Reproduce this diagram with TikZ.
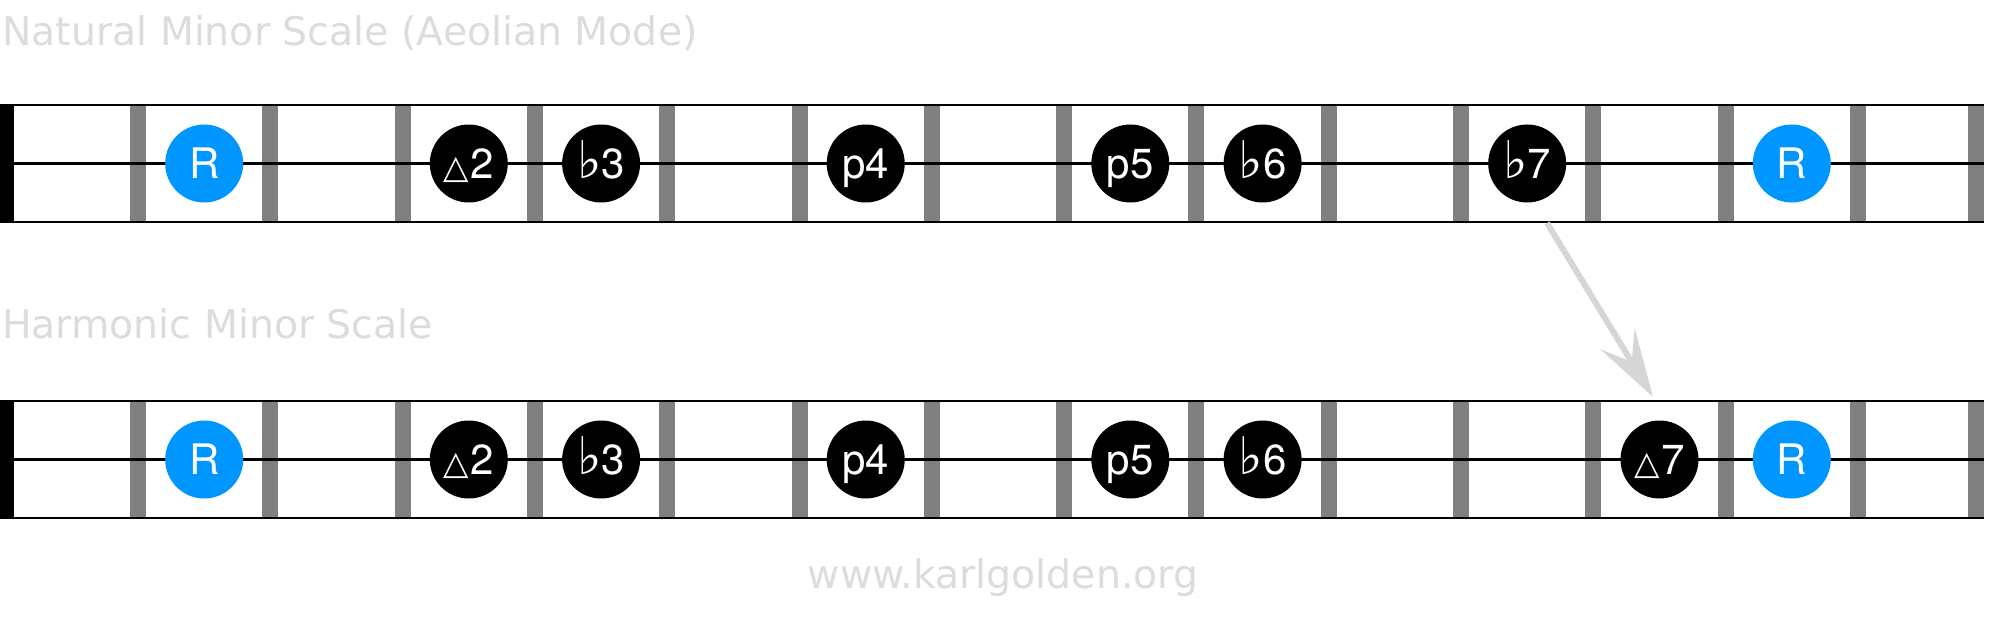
\documentclass[tikz,border=0pt]{standalone}
\usepackage{fontspec}
\setmainfont{DejaVu Sans}
\newfontfamily\notefont{TeX Gyre Heros}
\newfontfamily\symfont{DejaVu Sans}
\usetikzlibrary{arrows.meta}
\definecolor{fretgray}{HTML}{808080}
\definecolor{rootblue}{HTML}{0096FF}
\definecolor{titlegray}{HTML}{DCDCDC}
\definecolor{arrowgray}{HTML}{D6D6D6}
\newcommand{\flatsym}{{\symfont\fontsize{52}{52}\selectfont ♭}}
\newcommand{\majsym}{{\symfont\fontsize{33}{33}\selectfont △}\kern1pt}
\begin{document}
\begin{tikzpicture}[x=1pt,y=-1pt,
  notebox/.style={circle, minimum size=78pt, inner sep=0pt, fill=black, text=white,
    text height=30pt, text depth=0pt,
    font=\notefont\fontsize{42}{42}\selectfont},
  rootbox/.style={notebox, fill=rootblue},
  fretbar/.style={fill=fretgray},
  nutbar/.style={fill=black},
  staffline/.style={line width=2.5pt, black},
  titletext/.style={inner sep=0pt, text=titlegray, font=\fontsize{39.4}{39.4}\selectfont},
  movearrow/.style={-{Stealth[length=68pt,width=40pt,inset=27pt]}, line width=6pt, arrowgray}]
\useasboundingbox (0,0) rectangle (2000,623);
\fill[white] (0,0) rectangle (2000,623);
% staves
\foreach \off in {0,296} {
  \fill[nutbar] (0,{105+\off}) rectangle (14,{222+\off});
  \foreach \k in {0,...,13}
    \fill[fretbar] ({138+132.3*\k-8},{105+\off}) rectangle ++(16,117);
  \fill[fretbar] (1968,{105+\off}) rectangle ++(16,117);
  \foreach \yy in {105,163.5,222}
    \draw[staffline] (0,{\yy+\off}) -- (1984,{\yy+\off});
}
% top staff notes
\node[rootbox]  (a1)  at (204.2,163.5) {R};
\node[notebox]  (a3)  at (468.8,163.5) {\majsym2};
\node[notebox]  (a4)  at (601.1,163.5) {\flatsym3};
\node[notebox]  (a6)  at (865.7,163.5) {p4};
\node[notebox]  (a8)  at (1130.3,163.5) {p5};
\node[notebox]  (a9)  at (1262.6,163.5) {\flatsym6};
\node[notebox]  (a11) at (1527.2,163.5) {\flatsym7};
\node[rootbox]  (a13) at (1791.8,163.5) {R};
% bottom staff notes
\node[rootbox]  (b1)  at (204.2,459.5) {R};
\node[notebox]  (b3)  at (468.8,459.5) {\majsym2};
\node[notebox]  (b4)  at (601.1,459.5) {\flatsym3};
\node[notebox]  (b6)  at (865.7,459.5) {p4};
\node[notebox]  (b8)  at (1130.3,459.5) {p5};
\node[notebox]  (b9)  at (1262.6,459.5) {\flatsym6};
\node[notebox]  (b12) at (1659.5,459.5) {\majsym7};
\node[rootbox]  (b13) at (1791.8,459.5) {R};
% arrow
\coordinate (arrS) at (1547,223);
\coordinate (arrE) at (1653,397);
\draw[movearrow] (arrS) -- (arrE);
% texts
\node[titletext, anchor=base west] (t1) at (2,46) {Natural Minor Scale (Aeolian Mode)};
\node[titletext, anchor=base west] (t2) at (2,338) {Harmonic Minor Scale};
\node[titletext, anchor=base] (wm) at (1003,588) {www.karlgolden.org};
\end{tikzpicture}
\end{document}
